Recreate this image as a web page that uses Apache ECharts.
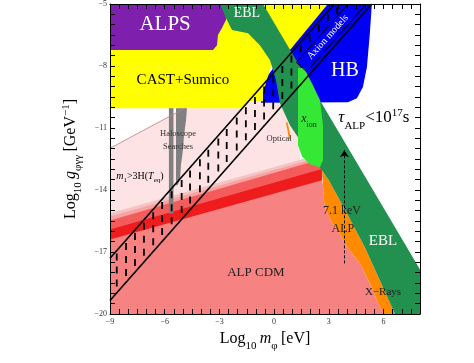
<!DOCTYPE html>
<html><head><meta charset="utf-8">
<script src="https://cdn.jsdelivr.net/npm/echarts@6/dist/echarts.min.js"></script>
<style>html,body{margin:0;padding:0;background:#fff}#c{width:474px;height:363px}</style>
</head><body><div id="c"></div>
<script>
// ---- axis ranges & tick labels ----
const xRange = [-9, 8];
const yRange = [-20, -5];
const xTickLabels = [-9, -6, -3, 0, 3, 6];
const yTickLabels = [-20, -17, -14, -11, -8, -5];

// ---- exclusion / region boundaries [log10 m (eV), log10 g (GeV^-1)] ----
const mhTeq = [[-9,-11.98],[-4.89,-10.04],[-1.6,-10.04],[-1.54,-9.75],[1.42,-9.75],[1.42,-12.95],[2.62,-12.95],[2.62,-20],[-9,-20]];
const mhTeqEdge = [[-9,-11.98],[-4.89,-10.04]];
const band1 = [[-9,-15.13],[2.62,-12.25],[2.62,-20],[-9,-20]];
const band2 = [[-9,-15.28],[2.62,-12.38],[2.62,-20],[-9,-20]];
const band3 = [[-9,-15.47],[2.62,-12.5],[2.62,-20],[-9,-20]];
const band4 = [[-9,-15.91],[2.62,-12.98],[2.62,-20],[-9,-20]];
const xrayEdge = [[2.62,-12.95],[2.68,-13.77],[2.73,-14.50],[2.84,-14.99],[3.17,-15.57],[3.55,-16.05],[3.88,-16.59],[4.27,-17.07],[4.71,-17.55],[5.04,-18.14],[5.31,-18.62],[5.47,-18.96],[5.69,-19.45],[5.86,-19.74],[6.02,-20]];
const cdmTop = [[-9,-16.39],[2.62,-13.53]];
const eblEdge = [[-2.97,-5],[-2.64,-5.68],[-2.31,-6.26],[-1.43,-6.41],[-0.78,-6.99],[-0.23,-7.71],[0.10,-8.68],[0.32,-9.80],[0.87,-10.87],[1.42,-11.59],[2.24,-12.56],[2.62,-13.05],[3.0,-13.53],[3.99,-15.13],[4.98,-16.78],[5.80,-18.38],[6.63,-20]];
const eblRight = [[8,-20],[8,-17.85],[-0.61,-5]];
const hb = [[2.6,-5],[5.36,-5],[5.25,-6.41],[5.09,-8.05],[4.87,-9.02],[4.54,-9.56],[4.05,-9.75],[-0.72,-9.78],[-0.72,-8.9]];
const cast = [[-9,-5],[2.95,-5],[0.87,-7.23],[-0.07,-7.71],[-0.61,-9.31],[-0.61,-9.7],[-1.49,-9.7],[-1.6,-10.04],[-9,-10.04]];
const alps = [[-9,-5],[-2.86,-5],[-2.64,-5.39],[-2.64,-5.78],[-2.86,-6.16],[-3.08,-6.50],[-3.13,-6.99],[-3.35,-7.23],[-9,-7.23]];
const xion = [[1.31,-8.10],[1.64,-8.10],[2.13,-8.93],[2.51,-9.65],[2.68,-10.87],[2.68,-12.56],[2.51,-12.90],[1.96,-12.76],[1.53,-12.37],[1.31,-11.83]];
const optical = [[0.65,-10.72],[0.74,-10.72],[0.92,-11.52],[0.82,-11.56]];
const halo1 = [[-5.77,-10.04],[-5.52,-10.04],[-5.52,-15.13],[-5.77,-15.13]];
const halo2 = [[-5.38,-10.04],[-4.78,-10.04],[-4.83,-10.62],[-4.94,-11.35],[-5.0,-12.08],[-5.11,-12.80],[-5.16,-13.5],[-5.3,-13.77],[-5.38,-13.77]];

// ---- axion band, box and hatching ----
const axionUpper = [[-9,-17.3],[3.3,-5]];
const axionLower = [[-9,-19.35],[5.35,-5]];
const boxUpper = [[1.22,-7.83],[4.05,-5]];
const boxLower = [[1.78,-8.27],[5.05,-5]];
const boxCap = [[1.22,-7.83],[1.78,-8.27]];
const hatchX = [-8.63,-8.12,-7.63,-7.14,-6.63,-6.14,-5.62,-5.07,-4.61,-4.07,-3.61,-3.06,-2.6,-2.05,-1.55,-1.05,-0.55,-0.05,0.45,0.95,1.45,1.95,2.45,2.95,3.45,3.95];
const upperOffset = -8.3, lowerOffset = -10.35, boxOffset = -9.05, boxStartX = 1.22;

// ---- 7.1 keV line ----
const keVLine = [[3.85,-17.55],[3.85,-12.08]];

// ---- build regions (draw order) ----
const xray = xrayEdge.concat(eblEdge.slice(11).reverse());
const cdm = cdmTop.concat(xrayEdge.slice(1)).concat([[-9,-20]]);
const ebl = eblEdge.concat(eblRight);
const regions = [
  {pts: mhTeq, color: '#fde3e3'},
  {pts: band1, color: '#f7c2c2'},
  {pts: band2, color: '#f5a3a3'},
  {pts: band3, color: '#f45c5c'},
  {pts: band4, color: '#ee1c1c'},
  {pts: cdm, color: '#f78282'},
  {pts: xray, color: '#ff8a00'},
  {pts: hb, color: '#0000f5'},
  {pts: cast, color: '#ffff00'},
  {pts: alps, color: '#7e1fae'},
  {pts: ebl, color: '#22904e'},
  {pts: xion, color: '#36e836'},
  {pts: optical, color: '#ff8a00'},
  {pts: halo1, color: '#808080'},
  {pts: halo2, color: '#808080'}
];

const SERIF = 'Liberation Serif';
const labels = [
  {p:[-5.98,-5.97], t:'ALPS', c:'#fff', fs:21},
  {p:[-5.0,-8.68], t:'CAST+Sumico', c:'#000', fs:15},
  {p:[-1.49,-5.44], t:'EBL', c:'#fff', fs:14},
  {p:[3.88,-8.25], t:'HB', c:'#fff', fs:20},
  {p:[2.95,-6.6], t:'Axion models', c:'#fff', fs:10, rot:48},
  {p:[-5.27,-11.59], t:'Haloscope\nSearches', c:'#333', fs:8.5, lh:13},
  {p:[-7.36,-13.39], t:'{i|m}{s|1}{n|>3H(}{i|T}{s|eq}{n|)}', c:'#000', fs:10, sub:7},
  {p:[0.27,-11.5], t:'Optical', c:'#333', fs:8.5},
  {p:[1.91,-10.67], t:'{i|x}{s|ion}', c:'#0a2a0a', fs:12, sub:8},
  {p:[5.47,-10.57], t:'{i|τ}{s|ALP}{n|<10}{p|17}{n|s}', c:'#000', fs:17, sub:11},
  {p:[3.72,-15.03], t:'7.1 keV', c:'#222', fs:12},
  {p:[3.77,-15.86], t:'ALP', c:'#222', fs:12},
  {p:[5.97,-16.49], t:'EBL', c:'#fff', fs:15},
  {p:[5.97,-18.96], t:'X−Rays', c:'#222', fs:11},
  {p:[-1.0,-18.0], t:'ALP CDM', c:'#222', fs:13}
];

function richFor(fs, sub, color){
  const b = Math.round(fs*0.3);
  return {
    n: {fontSize: fs, fontFamily: SERIF, color, fill: color, verticalAlign:'bottom', padding:[0,0,b,0]},
    i: {fontSize: fs, fontFamily: SERIF, fontStyle:'italic', color, fill: color, verticalAlign:'bottom', padding:[0,0,b,0]},
    s: {fontSize: sub, fontFamily: SERIF, color, fill: color, verticalAlign:'bottom', padding:[0,0,0,0]},
    p: {fontSize: sub, fontFamily: SERIF, color, fill: color, verticalAlign:'bottom', padding:[0,0,b+Math.round(fs*0.45),0]}
  };
}

const fmt = v => (v < 0 ? '−' : '') + Math.abs(v);
const axisCommon = {
  type: 'value', interval: 0.5, z: 10,
  axisLine: {show: true, onZero: false, lineStyle: {color: '#000', width: 1}},
  axisTick: {show: true, inside: true, length: 5, lineStyle: {color: '#000', width: 1}},
  splitLine: {show: false}
};

const lineSeries = (data, w) => ({
  type: 'line', data, showSymbol: false, symbol: 'none', silent: true,
  lineStyle: {color: '#000', width: w}, z: 5
});

const chart = echarts.init(document.getElementById('c'), null, {renderer: 'canvas'});
chart.setOption({
  animation: false,
  grid: {left: 110, right: 54, top: 4, bottom: 49},
  xAxis: [
    Object.assign({}, axisCommon, {
      min: xRange[0], max: xRange[1], position: 'bottom',
      axisLabel: {formatter: v => xTickLabels.includes(v) ? fmt(v) : '', fontSize: 8, color: '#333', fontFamily: SERIF, margin: 4},
      name: '{n|Log}{s|10} {i|m}{s|φ} {n|[eV]}', nameLocation: 'middle', nameGap: 11,
      nameTextStyle: {rich: richFor(16, 11, '#000')}
    }),
    Object.assign({}, axisCommon, {min: xRange[0], max: xRange[1], position: 'top', axisLabel: {show: false}})
  ],
  yAxis: [
    Object.assign({}, axisCommon, {
      min: yRange[0], max: yRange[1], position: 'left',
      axisLabel: {formatter: v => yTickLabels.includes(v) ? fmt(v) : '', fontSize: 8, color: '#333', fontFamily: SERIF, margin: 3},
      name: '{n|Log}{s|10} {i|g}{s|φγγ} {n|[GeV}{p|−1}{n|]}', nameLocation: 'middle', nameGap: 15,
      nameTextStyle: {rich: richFor(16, 11, '#000')}
    }),
    Object.assign({}, axisCommon, {min: yRange[0], max: yRange[1], position: 'right', axisLabel: {show: false}})
  ],
  series: [
    {
      type: 'custom', clip: true, silent: true, z: 2,
      data: regions.map((r, i) => [i, 0]),
      renderItem: (params, api) => {
        const r = regions[params.dataIndex];
        return {type: 'polygon', shape: {points: r.pts.map(p => api.coord(p))}, style: {fill: r.color, stroke: null}};
      }
    },
    Object.assign(lineSeries(mhTeqEdge, 0.8), {lineStyle: {color: '#b98080', width: 0.8}}),
    lineSeries(axionUpper, 1.6),
    lineSeries(axionLower, 1.6),
    lineSeries(boxUpper, 1),
    lineSeries(boxLower, 1),
    lineSeries(boxCap, 1),
    {
      type: 'custom', clip: true, silent: true, z: 5,
      data: hatchX.map(x => [x, 0]),
      renderItem: (params, api) => {
        const x = hatchX[params.dataIndex];
        const top = Math.min(x + upperOffset, yRange[1]);
        const bot = x >= boxStartX ? x + boxOffset : x + lowerOffset;
        if (bot >= top) return null;
        const a = api.coord([x, top]), b = api.coord([x, bot]);
        return {type: 'line', shape: {x1: a[0], y1: a[1] + 3, x2: b[0], y2: b[1]},
          style: {stroke: '#000', lineWidth: 1.8, lineDash: [7, 6]}};
      }
    },
    {
      type: 'line', data: [], silent: true, z: 6,
      markLine: {
        silent: true, symbol: ['none', 'arrow'], symbolSize: 7, animation: false,
        label: {show: false},
        lineStyle: {color: '#000', width: 1, type: [3, 2]},
        data: [[{coord: keVLine[0]}, {coord: keVLine[1]}]]
      }
    },
    {
      type: 'custom', clip: false, silent: true, z: 8,
      data: labels.map((l, i) => [i, 0]),
      renderItem: (params, api) => {
        const l = labels[params.dataIndex];
        const c = api.coord(l.p);
        const st = {
          text: l.t, fill: l.c, fontSize: l.fs, fontFamily: SERIF,
          align: 'center', verticalAlign: 'middle', textAlign: 'center', textVerticalAlign: 'middle'
        };
        if (l.lh) st.lineHeight = l.lh;
        if (l.sub) st.rich = richFor(l.fs, l.sub, l.c);
        return {type: 'text', x: c[0], y: c[1], rotation: l.rot ? l.rot * Math.PI / 180 : 0, style: st};
      }
    }
  ]
});
</script>
</body></html>
